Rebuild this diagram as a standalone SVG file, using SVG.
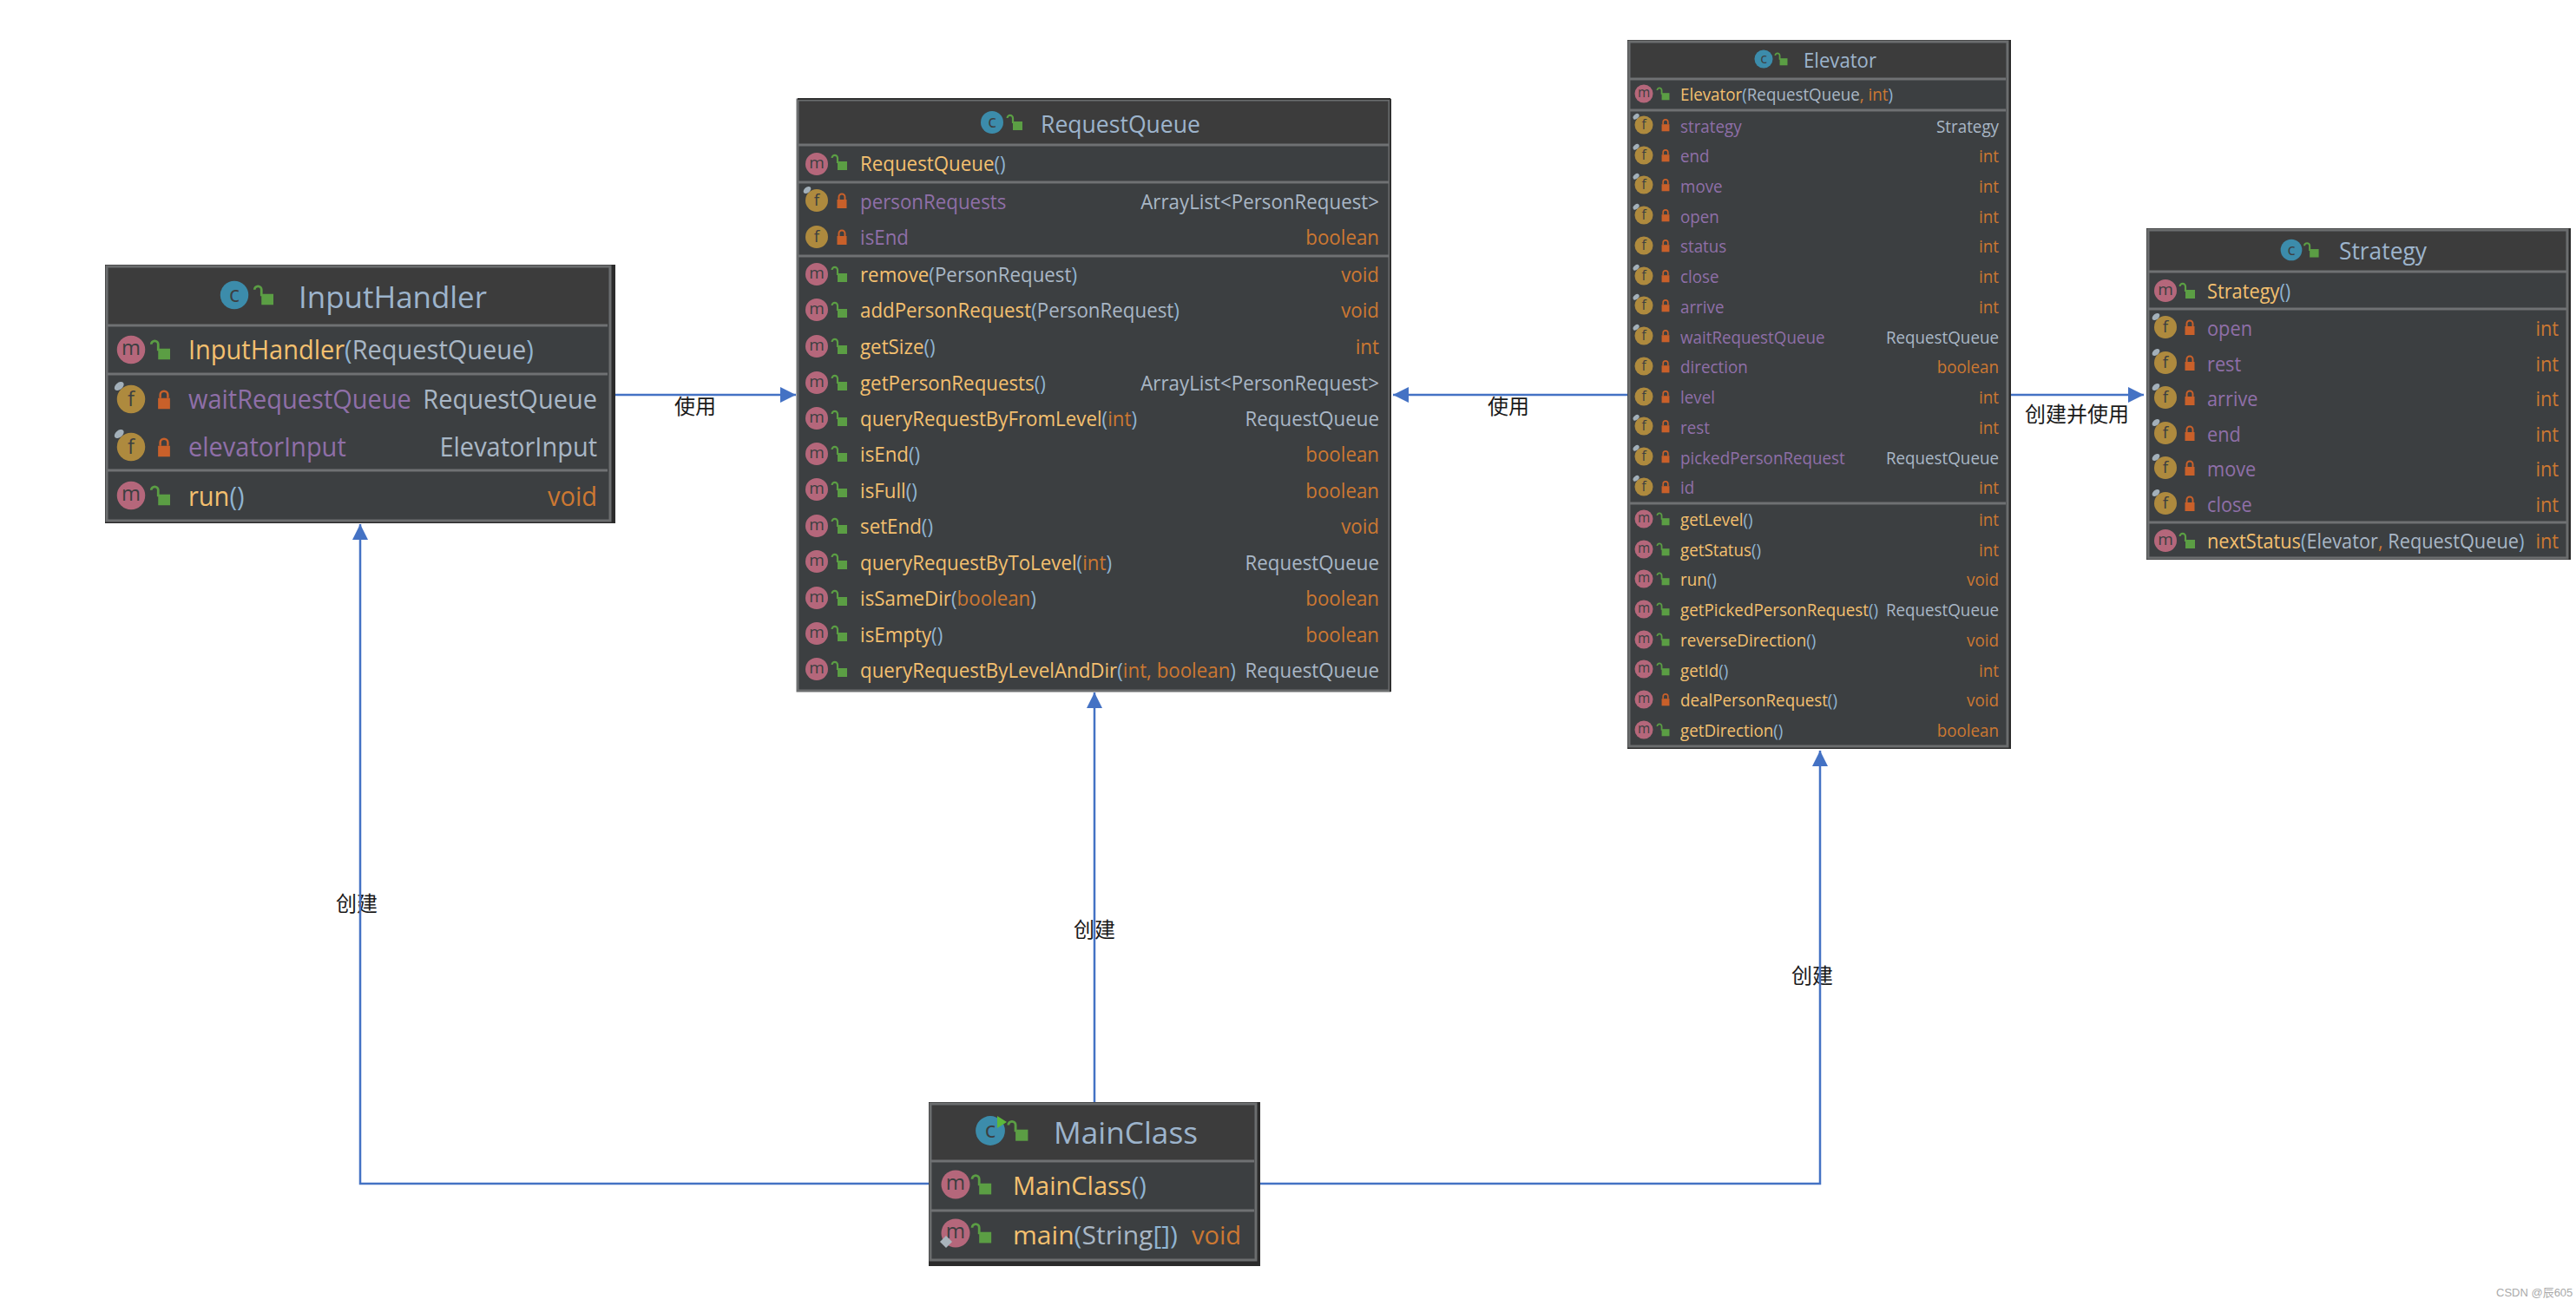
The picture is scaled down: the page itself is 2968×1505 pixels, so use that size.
<svg xmlns="http://www.w3.org/2000/svg" xmlns:xlink="http://www.w3.org/1999/xlink" width="2968" height="1505" viewBox="0 0 2968 1505">
<style>
text{font-family:"Open Sans","Noto Sans",sans-serif}
.b{fill:#3C3F41;stroke:#6B6D6E;stroke-width:3}
.h{fill:#3C3C3C}
.s{stroke:#6F7173;stroke-width:3}
.e{fill:#2B2B2B}
.n{fill:#F4C06F}
.p{fill:#8FB4D2}
.t{fill:#A9B7C6}
.k{fill:#CC7832}
.v{fill:#8F6FA8}
.tt{fill:#9DB4CC}
.r{text-anchor:end}
.lbl{font-family:"Noto Sans CJK SC","Liberation Sans",sans-serif;font-size:24px;fill:#1a1a1a;text-anchor:middle}
.wm{font-family:"Liberation Sans","Noto Sans CJK SC",sans-serif;font-size:13px;fill:#aaa}
.c{fill:none;stroke:#4472C4;stroke-width:2.5}
.ic{font-size:19px;fill:#3C3F41;text-anchor:middle}
</style>
<defs>
<marker id="a" markerUnits="userSpaceOnUse" markerWidth="19" markerHeight="18" refX="18" refY="9" orient="auto"><path d="M0 0L18 9L0 18Z" fill="#4472C4"/></marker>
<g id="m"><circle r="13" fill="#B5677B"/><text class="ic" y="5">m</text></g>
<g id="f"><circle r="13" fill="#AE8A3E"/><text class="ic" y="6">f</text></g>
<g id="fp"><use xlink:href="#f" href="#f"/><ellipse cx="-11" cy="-12" rx="5" ry="3.2" transform="rotate(-40 -11 -12)" fill="#A3B0BA"/></g>
<g id="c"><circle r="13" fill="#3C8CAB"/><text class="ic" y="6" style="font-size:20px">c</text></g>
<g id="lo"><path d="M-3 1V-5a3.2 3.2 0 0 0-6.4 0" fill="none" stroke="#5B9E44" stroke-width="2.2"/><rect x="-3" y="-1" width="11" height="10" fill="#5B9E44"/></g>
<g id="lc"><path d="M-3.5 -1V-4a3.5 3.5 0 0 1 7 0V-1" fill="none" stroke="#C9602A" stroke-width="2"/><rect x="-5.5" y="-1" width="11" height="10" fill="#C9602A"/></g>
</defs>
<rect width="2968" height="1505" fill="#fff"/>

<g id="InputHandler">
<rect class="e" x="121" y="305" width="588" height="298"/>
<rect class="b" x="123" y="307" width="580" height="293"/>
<rect class="h" x="125" y="309" width="576" height="65"/>
<path class="s" d="M124 375H700M124 431H700M124 542H700"/>
<use href="#c" transform="translate(270 340) scale(1.25)"/><use href="#lo" transform="translate(305 340) scale(1.25)"/>
<text class="tt" x="344" y="355" font-size="35" textLength="217" lengthAdjust="spacingAndGlyphs">InputHandler</text>
<use href="#m" transform="translate(151 403) scale(1.25)"/><use href="#lo" transform="translate(186 403) scale(1.25)"/>
<use href="#fp" transform="translate(151 460) scale(1.25)"/><use href="#lc" transform="translate(189 460) scale(1.25)"/>
<use href="#fp" transform="translate(151 515) scale(1.25)"/><use href="#lc" transform="translate(189 515) scale(1.25)"/>
<use href="#m" transform="translate(151 571) scale(1.25)"/><use href="#lo" transform="translate(186 571) scale(1.25)"/>
<g font-size="31" transform="translate(217 0) scale(.935 1)">
<text y="414"><tspan class="n">InputHandler</tspan><tspan class="p">(</tspan><tspan class="t">RequestQueue</tspan><tspan class="p">)</tspan></text>
<text y="471" class="v">waitRequestQueue</text>
<text y="526" class="v">elevatorInput</text>
<text y="583"><tspan class="n">run</tspan><tspan class="p">()</tspan></text>
</g>
<g font-size="31" class="r" transform="translate(688 0) scale(.935 1)">
<text y="471" class="t r">RequestQueue</text>
<text y="526" class="t r">ElevatorInput</text>
<text y="583" class="k r">void</text>
</g>
</g>

<g id="RequestQueue">
<rect class="b" x="919" y="115" width="682" height="681"/>
<rect class="h" x="921" y="117" width="678" height="49"/>
<path class="s" d="M920 167H1600M920 210H1600M920 295H1600"/>
<path d="M919 114H1602M1602 114V797" stroke="#2F2F2F" stroke-width="2"/>
<use href="#c" transform="translate(1143 141)"/><use href="#lo" transform="translate(1170 141)"/>
<text class="tt" x="1199" y="153" font-size="28" textLength="184" lengthAdjust="spacingAndGlyphs">RequestQueue</text>
<use href="#m" x="941" y="189"/><use href="#lo" x="968" y="187"/>
<use href="#fp" x="941" y="231"/><use href="#lc" x="970" y="231"/>
<use href="#f" x="941" y="273"/><use href="#lc" x="970" y="273"/>
<use href="#m" x="941" y="316"/><use href="#lo" x="968" y="316"/>
<use href="#m" x="941" y="357"/><use href="#lo" x="968" y="357"/>
<use href="#m" x="941" y="399"/><use href="#lo" x="968" y="399"/>
<use href="#m" x="941" y="441"/><use href="#lo" x="968" y="441"/>
<use href="#m" x="941" y="482"/><use href="#lo" x="968" y="482"/>
<use href="#m" x="941" y="523"/><use href="#lo" x="968" y="523"/>
<use href="#m" x="941" y="564"/><use href="#lo" x="968" y="564"/>
<use href="#m" x="941" y="606"/><use href="#lo" x="968" y="606"/>
<use href="#m" x="941" y="647"/><use href="#lo" x="968" y="647"/>
<use href="#m" x="941" y="689"/><use href="#lo" x="968" y="689"/>
<use href="#m" x="941" y="730"/><use href="#lo" x="968" y="730"/>
<use href="#m" x="941" y="771"/><use href="#lo" x="968" y="771"/>
<g font-size="24" transform="translate(991 0) scale(.93 1)">
<text y="197"><tspan class="n">RequestQueue</tspan><tspan class="p">()</tspan></text>
<text y="241" class="v">personRequests</text>
<text y="282" class="v">isEnd</text>
<text y="325"><tspan class="n">remove</tspan><tspan class="p">(</tspan><tspan class="t">PersonRequest</tspan><tspan class="p">)</tspan></text>
<text y="366"><tspan class="n">addPersonRequest</tspan><tspan class="p">(</tspan><tspan class="t">PersonRequest</tspan><tspan class="p">)</tspan></text>
<text y="408"><tspan class="n">getSize</tspan><tspan class="p">()</tspan></text>
<text y="450"><tspan class="n">getPersonRequests</tspan><tspan class="p">()</tspan></text>
<text y="491"><tspan class="n">queryRequestByFromLevel</tspan><tspan class="p">(</tspan><tspan class="k">int</tspan><tspan class="p">)</tspan></text>
<text y="532"><tspan class="n">isEnd</tspan><tspan class="p">()</tspan></text>
<text y="574"><tspan class="n">isFull</tspan><tspan class="p">()</tspan></text>
<text y="615"><tspan class="n">setEnd</tspan><tspan class="p">()</tspan></text>
<text y="657"><tspan class="n">queryRequestByToLevel</tspan><tspan class="p">(</tspan><tspan class="k">int</tspan><tspan class="p">)</tspan></text>
<text y="698"><tspan class="n">isSameDir</tspan><tspan class="p">(</tspan><tspan class="k">boolean</tspan><tspan class="p">)</tspan></text>
<text y="740"><tspan class="n">isEmpty</tspan><tspan class="p">()</tspan></text>
<text y="781"><tspan class="n">queryRequestByLevelAndDir</tspan><tspan class="p">(</tspan><tspan class="k">int, boolean</tspan><tspan class="p">)</tspan></text>
</g>
<g font-size="24" transform="translate(1589 0) scale(.93 1)">
<text y="241" class="t r">ArrayList&lt;PersonRequest&gt;</text>
<text y="282" class="k r">boolean</text>
<text y="325" class="k r">void</text>
<text y="366" class="k r">void</text>
<text y="408" class="k r">int</text>
<text y="450" class="t r">ArrayList&lt;PersonRequest&gt;</text>
<text y="491" class="t r">RequestQueue</text>
<text y="532" class="k r">boolean</text>
<text y="574" class="k r">boolean</text>
<text y="615" class="k r">void</text>
<text y="657" class="t r">RequestQueue</text>
<text y="698" class="k r">boolean</text>
<text y="740" class="k r">boolean</text>
<text y="781" class="t r">RequestQueue</text>
</g>
</g>

<g id="Elevator">
<rect class="e" x="1875" y="46" width="442" height="817"/>
<rect class="b" x="1877" y="48" width="436" height="812"/>
<rect class="h" x="1879" y="50" width="432" height="40"/>
<path class="s" d="M1878 91H2311M1878 127H2311M1878 580H2311"/>
<use href="#c" transform="translate(2032 68) scale(.81)"/><use href="#lo" transform="translate(2053 68) scale(.81)"/>
<text class="tt" x="2078" y="78" font-size="23" textLength="84" lengthAdjust="spacingAndGlyphs">Elevator</text>
<use href="#m" transform="translate(1894 108) scale(.81)"/><use href="#lo" transform="translate(1917 108) scale(.81)"/>
<use href="#fp" transform="translate(1894 144) scale(.81)"/><use href="#lc" transform="translate(1919 144) scale(.81)"/>
<use href="#fp" transform="translate(1894 179) scale(.81)"/><use href="#lc" transform="translate(1919 179) scale(.81)"/>
<use href="#fp" transform="translate(1894 213) scale(.81)"/><use href="#lc" transform="translate(1919 213) scale(.81)"/>
<use href="#fp" transform="translate(1894 248) scale(.81)"/><use href="#lc" transform="translate(1919 248) scale(.81)"/>
<use href="#f" transform="translate(1894 283) scale(.81)"/><use href="#lc" transform="translate(1919 283) scale(.81)"/>
<use href="#fp" transform="translate(1894 318) scale(.81)"/><use href="#lc" transform="translate(1919 318) scale(.81)"/>
<use href="#fp" transform="translate(1894 352) scale(.81)"/><use href="#lc" transform="translate(1919 352) scale(.81)"/>
<use href="#fp" transform="translate(1894 387) scale(.81)"/><use href="#lc" transform="translate(1919 387) scale(.81)"/>
<use href="#f" transform="translate(1894 422) scale(.81)"/><use href="#lc" transform="translate(1919 422) scale(.81)"/>
<use href="#f" transform="translate(1894 457) scale(.81)"/><use href="#lc" transform="translate(1919 457) scale(.81)"/>
<use href="#fp" transform="translate(1894 491) scale(.81)"/><use href="#lc" transform="translate(1919 491) scale(.81)"/>
<use href="#fp" transform="translate(1894 526) scale(.81)"/><use href="#lc" transform="translate(1919 526) scale(.81)"/>
<use href="#fp" transform="translate(1894 561) scale(.81)"/><use href="#lc" transform="translate(1919 561) scale(.81)"/>
<use href="#m" transform="translate(1894 598) scale(.81)"/><use href="#lo" transform="translate(1917 598) scale(.81)"/>
<use href="#m" transform="translate(1894 633) scale(.81)"/><use href="#lo" transform="translate(1917 633) scale(.81)"/>
<use href="#m" transform="translate(1894 667) scale(.81)"/><use href="#lo" transform="translate(1917 667) scale(.81)"/>
<use href="#m" transform="translate(1894 702) scale(.81)"/><use href="#lo" transform="translate(1917 702) scale(.81)"/>
<use href="#m" transform="translate(1894 737) scale(.81)"/><use href="#lo" transform="translate(1917 737) scale(.81)"/>
<use href="#m" transform="translate(1894 771) scale(.81)"/><use href="#lo" transform="translate(1917 771) scale(.81)"/>
<use href="#m" transform="translate(1894 806) scale(.81)"/><use href="#lc" transform="translate(1919 806) scale(.81)"/>
<use href="#m" transform="translate(1894 841) scale(.81)"/><use href="#lo" transform="translate(1917 841) scale(.81)"/>
<g font-size="20" transform="translate(1936 0) scale(.94 1)">
<text y="116"><tspan class="n">Elevator</tspan><tspan class="p">(</tspan><tspan class="t">RequestQueue</tspan><tspan class="k">, int</tspan><tspan class="p">)</tspan></text>
<text y="153" class="v">strategy</text>
<text y="187" class="v">end</text>
<text y="222" class="v">move</text>
<text y="257" class="v">open</text>
<text y="291" class="v">status</text>
<text y="326" class="v">close</text>
<text y="361" class="v">arrive</text>
<text y="396" class="v">waitRequestQueue</text>
<text y="430" class="v">direction</text>
<text y="465" class="v">level</text>
<text y="500" class="v">rest</text>
<text y="535" class="v">pickedPersonRequest</text>
<text y="569" class="v">id</text>
<text y="606"><tspan class="n">getLevel</tspan><tspan class="p">()</tspan></text>
<text y="641"><tspan class="n">getStatus</tspan><tspan class="p">()</tspan></text>
<text y="675"><tspan class="n">run</tspan><tspan class="p">()</tspan></text>
<text y="710"><tspan class="n">getPickedPersonRequest</tspan><tspan class="p">()</tspan></text>
<text y="745"><tspan class="n">reverseDirection</tspan><tspan class="p">()</tspan></text>
<text y="780"><tspan class="n">getId</tspan><tspan class="p">()</tspan></text>
<text y="814"><tspan class="n">dealPersonRequest</tspan><tspan class="p">()</tspan></text>
<text y="849"><tspan class="n">getDirection</tspan><tspan class="p">()</tspan></text>
</g>
<g font-size="20" transform="translate(2303 0) scale(.94 1)">
<text y="153" class="t r">Strategy</text>
<text y="187" class="k r">int</text>
<text y="222" class="k r">int</text>
<text y="257" class="k r">int</text>
<text y="291" class="k r">int</text>
<text y="326" class="k r">int</text>
<text y="361" class="k r">int</text>
<text y="396" class="t r">RequestQueue</text>
<text y="430" class="k r">boolean</text>
<text y="465" class="k r">int</text>
<text y="500" class="k r">int</text>
<text y="535" class="t r">RequestQueue</text>
<text y="569" class="k r">int</text>
<text y="606" class="k r">int</text>
<text y="641" class="k r">int</text>
<text y="675" class="k r">void</text>
<text y="710" class="t r">RequestQueue</text>
<text y="745" class="k r">void</text>
<text y="780" class="k r">int</text>
<text y="814" class="k r">void</text>
<text y="849" class="k r">boolean</text>
</g>
</g>

<g id="Strategy">
<rect class="e" x="2473" y="263" width="489" height="382"/>
<rect class="b" x="2475" y="265" width="483" height="378"/>
<rect class="h" x="2477" y="267" width="479" height="45"/>
<path class="s" d="M2475 313H2957M2475 356H2957M2475 602H2957"/>
<use href="#c" transform="translate(2640 288) scale(.95)"/><use href="#lo" transform="translate(2664 288) scale(.95)"/>
<text class="tt" x="2695" y="299" font-size="27" textLength="101" lengthAdjust="spacingAndGlyphs">Strategy</text>
<use href="#m" x="2495" y="335"/><use href="#lo" x="2521" y="335"/>
<use href="#fp" x="2495" y="377"/><use href="#lc" x="2523" y="377"/>
<use href="#fp" x="2495" y="418"/><use href="#lc" x="2523" y="418"/>
<use href="#fp" x="2495" y="458"/><use href="#lc" x="2523" y="458"/>
<use href="#fp" x="2495" y="499"/><use href="#lc" x="2523" y="499"/>
<use href="#fp" x="2495" y="539"/><use href="#lc" x="2523" y="539"/>
<use href="#fp" x="2495" y="580"/><use href="#lc" x="2523" y="580"/>
<use href="#m" x="2495" y="623"/><use href="#lo" x="2521" y="623"/>
<g font-size="24" transform="translate(2543 0) scale(.907 1)">
<text y="344"><tspan class="n">Strategy</tspan><tspan class="p">()</tspan></text>
<text y="387" class="v">open</text>
<text y="428" class="v">rest</text>
<text y="468" class="v">arrive</text>
<text y="509" class="v">end</text>
<text y="549" class="v">move</text>
<text y="590" class="v">close</text>
<text y="632"><tspan class="n">nextStatus</tspan><tspan class="p">(</tspan><tspan class="t">Elevator</tspan><tspan class="k">,</tspan><tspan class="t"> RequestQueue</tspan><tspan class="p">)</tspan></text>
</g>
<g font-size="24" transform="translate(2948 0) scale(.907 1)">
<text y="387" class="k r">int</text>
<text y="428" class="k r">int</text>
<text y="468" class="k r">int</text>
<text y="509" class="k r">int</text>
<text y="549" class="k r">int</text>
<text y="590" class="k r">int</text>
<text y="632" class="k r">int</text>
</g>
</g>

<g id="MainClass">
<rect class="e" x="1070" y="1270" width="382" height="189"/>
<rect class="b" x="1072" y="1272" width="375" height="180"/>
<rect class="h" x="1074" y="1274" width="371" height="63"/>
<path class="s" d="M1072 1338H1445M1072 1395H1445"/>
<use href="#c" transform="translate(1141 1303) scale(1.3)"/>
<path d="M1149 1286L1160 1293L1149 1300Z" fill="#5DB83A"/>
<use href="#lo" transform="translate(1174 1303) scale(1.3)"/>
<text class="tt" x="1214" y="1318" font-size="34" textLength="166" lengthAdjust="spacingAndGlyphs">MainClass</text>
<use href="#m" transform="translate(1101 1365) scale(1.27)"/><use href="#lo" transform="translate(1132 1365) scale(1.27)"/>
<use href="#m" transform="translate(1101 1421) scale(1.27)"/><use href="#lo" transform="translate(1132 1421) scale(1.27)"/>
<path d="M1090 1424L1097 1431L1090 1438L1083 1431Z" fill="#A9B4BC"/>
<g font-size="29">
<text x="1167" y="1377"><tspan class="n">MainClass</tspan><tspan class="p">()</tspan></text>
<text x="1167" y="1434" textLength="190" lengthAdjust="spacingAndGlyphs"><tspan class="n">main</tspan><tspan class="p">(</tspan><tspan class="t">String</tspan><tspan class="p">[])</tspan></text>
<text x="1430" y="1434" class="k r">void</text>
</g>
</g>

<g id="labels">
<text class="lbl" x="801" y="477">使用</text>
<text class="lbl" x="1738" y="477">使用</text>
<text class="lbl" x="2393" y="486">创建并使用</text>
<text class="lbl" x="411" y="1050">创建</text>
<text class="lbl" x="1261" y="1080">创建</text>
<text class="lbl" x="2088" y="1133">创建</text>
</g>

<g id="connectors">
<path class="c" d="M709 455H917" marker-end="url(#a)"/>
<path class="c" d="M1875 455H1605" marker-end="url(#a)"/>
<path class="c" d="M2317 455H2470" marker-end="url(#a)"/>
<path class="c" d="M1070 1364H415V604" marker-end="url(#a)"/>
<path class="c" d="M1261 1270V798" marker-end="url(#a)"/>
<path class="c" d="M1452 1364H2097V865" marker-end="url(#a)"/>
</g>

<text class="wm" x="2876" y="1494">CSDN @辰605</text>
</svg>
